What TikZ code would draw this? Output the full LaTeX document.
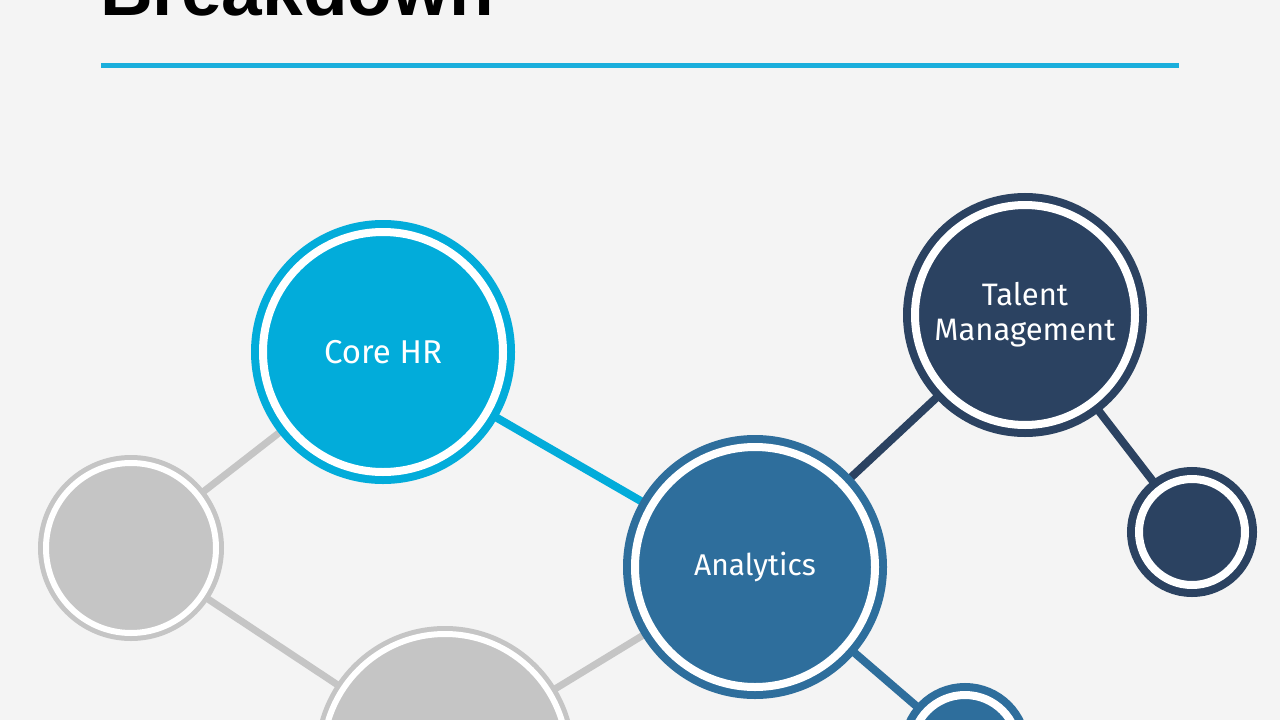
\documentclass[tikz,border=0pt]{standalone}
\usepackage{fontspec}
\setmainfont{Fira Sans}
\newfontfamily\titlefont{Liberation Sans}
\usetikzlibrary{backgrounds}
\definecolor{bgc}{HTML}{F4F4F4}
\definecolor{cyanc}{HTML}{02ACDA}
\definecolor{midc}{HTML}{2E6E9C}
\definecolor{navyc}{HTML}{2B4261}
\definecolor{grayc}{HTML}{C5C5C5}
\definecolor{linec}{HTML}{1AAEDC}
\tikzset{
  ringnode/.style={circle, inner sep=0pt, fill=#1, draw=#1, line width=8pt, double=white, double distance=8pt, text=white, align=center, font=\fontsize{30}{35}\selectfont},
  grayring/.style={circle, inner sep=0pt, fill=grayc, draw=grayc, line width=5pt, double=white, double distance=6pt},
  conn/.style={line width=8pt, draw=#1},
}
\begin{document}
\begin{tikzpicture}[x=1pt,y=-1pt]
\useasboundingbox (0,0) rectangle (1280,720);
\node[ringnode=cyanc, minimum size=240pt, font=\fontsize{33}{38}\selectfont] (core) at (383,352) {Core HR};
\node[ringnode=midc, minimum size=240pt] (anal) at (755,567) {Analytics};
\node[ringnode=navyc, minimum size=220pt, font=\fontsize{31}{35}\selectfont] (talent) at (1025,315) {Talent\\Management};
\node[ringnode=navyc, minimum size=106pt] (small) at (1192,532) {};
\node[ringnode=midc, minimum size=106pt] (bsmall) at (965,748) {};
\node[grayring, minimum size=170pt] (gleft) at (131,548) {};
\node[grayring, minimum size=244pt] (gbot) at (445,756) {};
\node[anchor=base west, inner sep=0pt, font=\titlefont\bfseries\fontsize{73}{80}\selectfont] (title) at (100,15) {Breakdown};
\coordinate (ls) at (101,65);
\coordinate (le) at (1179,65);
\begin{pgfonlayer}{background}
\fill[bgc] (0,0) rectangle (1280,720);
\draw[line width=5pt, linec] (ls) -- (le);
\draw[conn=grayc, line width=7pt] (core) -- (gleft);
\draw[conn=grayc, line width=7pt] (gleft) -- (gbot);
\draw[conn=grayc, line width=7pt] (gbot) -- (anal);
\draw[conn=cyanc] (core) -- (anal);
\draw[conn=navyc] (anal) -- (talent);
\draw[conn=navyc] (talent) -- (small);
\draw[conn=midc] (anal) -- (bsmall);
\end{pgfonlayer}
\end{tikzpicture}
\end{document}
